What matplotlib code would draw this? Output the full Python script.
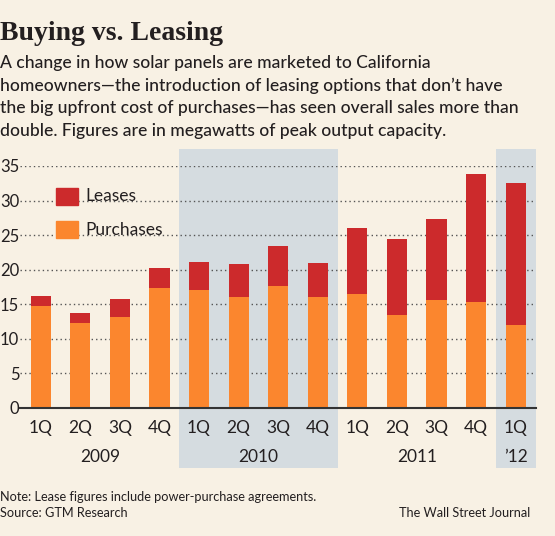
import matplotlib.pyplot as plt
import numpy as np

quarters = ["1Q", "2Q", "3Q", "4Q", "1Q", "2Q", "3Q", "4Q",
            "1Q", "2Q", "3Q", "4Q", "1Q"]
years = ["2009", "2010", "2011", "\u201912"]
year_pos = [1.5, 5.5, 9.5, 12]
purchases = [14.75, 12.25, 13.2, 17.4, 17.0, 16.1, 17.7, 16.1,
             16.5, 13.4, 15.6, 15.3, 12.0]
totals = [16.2, 13.7, 15.7, 20.2, 21.1, 20.8, 23.5, 20.9,
          26.1, 24.5, 27.3, 33.9, 32.6]
leases = [t - p for t, p in zip(totals, purchases)]

BG = "#f8f1e4"
BAND = "#d5dce0"
ORANGE = "#fb862e"
RED = "#cc2a2c"
INK = "#231f20"
SANS = "Lato"

W, H = 555, 536
fig = plt.figure(figsize=(W / 100, H / 100), dpi=100, facecolor=BG)

# axes placed in pixel units
left, right, top, base = 20, 535.5, 166, 408
ax = fig.add_axes([left / W, (H - base) / H, (right - left) / W, (base - top) / H])
ax.set_facecolor("none")
ax.set_xlim(-0.523, 12.5)
ax.set_ylim(0, 35)

# shaded year bands
ax_h = base - top
for x0, x1 in [(3.5, 7.5), (11.5, 12.5)]:
    ax.axvspan(x0, x1, ymin=-(468 - base) / ax_h, ymax=1 + (top - 149) / ax_h,
               color=BAND, clip_on=False, zorder=0, lw=0)

x = np.arange(len(quarters))
ax.bar(x, purchases, width=0.51, color=ORANGE, zorder=3, label="Purchases")
ax.bar(x, leases, bottom=purchases, width=0.51, color=RED, zorder=3, label="Leases")

ax.set_yticks(range(0, 36, 5))
ax.yaxis.grid(True, linestyle=(0, (1, 2.2)), color="#555555", lw=1.0, zorder=1)
ax.tick_params(axis="y", length=0, pad=0.5, labelsize=12, labelcolor=INK)
for lab in ax.get_yticklabels():
    lab.set_family(SANS)
ax.set_xticks([])
for s in ["top", "right", "left"]:
    ax.spines[s].set_visible(False)
ax.spines["bottom"].set_color("#333333")
ax.spines["bottom"].set_linewidth(1.5)
ax.spines["bottom"].set_zorder(4)

for xi, q in zip(x, quarters):
    ax.text(xi, -2.9, q, ha="center", va="center", fontsize=12.5, color=INK,
            family=SANS)
for xp, y in zip(year_pos, years):
    ax.text(xp, -7.1, y, ha="center", va="center", fontsize=12.5, color=INK,
            family=SANS)

# legend
for yy, col, lab in [(30.6, RED, "Leases"), (25.8, ORANGE, "Purchases")]:
    ax.add_patch(plt.Rectangle((0.38, yy - 1.2), 0.56, 2.4, color=col, zorder=3))
    ax.text(1.12, yy, lab, va="center", ha="left", fontsize=12.5, color=INK,
            family=SANS)

# header text
fig.text(0, 1 - 39.5 / H, "Buying vs. Leasing", fontsize=20, fontweight="bold",
         family="Liberation Serif", color=INK, va="baseline", ha="left")
sub = ["A change in how solar panels are marketed to California",
       "homeowners\u2014the introduction of leasing options that don\u2019t have",
       "the big upfront cost of purchases\u2014has seen overall sales more than",
       "double. Figures are in megawatts of peak output capacity."]
for i, line in enumerate(sub):
    fig.text(0, 1 - (68 + 22.6 * i) / H, line, fontsize=12.6, family=SANS,
             color=INK, va="baseline", ha="left", fontweight="medium")

fig.text(0, 1 - 497 / H, "Note: Lease figures include power-purchase agreements.",
         fontsize=9.2, family=SANS, color=INK, va="center")
fig.text(0, 1 - 513 / H, "Source: GTM Research", fontsize=9.2, family=SANS,
         color=INK, va="center")
fig.text(530 / W, 1 - 513 / H, "The Wall Street Journal", fontsize=9.2,
         family=SANS, color=INK, va="center", ha="right")

fig.savefig("out.png", dpi=100, facecolor=BG)
